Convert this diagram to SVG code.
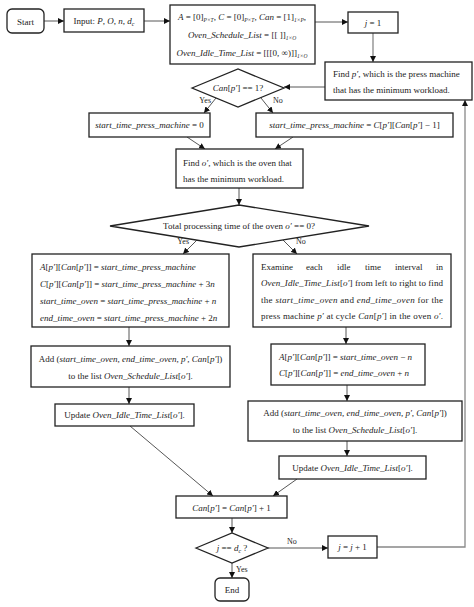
<svg xmlns="http://www.w3.org/2000/svg" width="474" height="607" viewBox="0 0 474 607">
<defs>
<marker id="ah" viewBox="0 0 10 10" refX="10" refY="5" markerWidth="6" markerHeight="6" markerUnits="userSpaceOnUse" orient="auto"><path d="M0,0 L10,5 L0,10 z" fill="#111"/></marker>
<style>
.box{fill:#fff;stroke:#222;stroke-width:1.3}
.t{font-family:"Liberation Serif","DejaVu Serif",serif;font-size:9px;fill:#222}
.mid{text-anchor:middle}
.end{text-anchor:end}
.m{font-style:italic}
.lbl{font-family:"Liberation Serif","DejaVu Serif",serif;font-size:8px;fill:#222}
.c{fill:none;stroke:#444;stroke-width:0.9;marker-end:url(#ah)}
.g{fill:none;stroke:#888;stroke-width:1.3;marker-end:url(#ah)}
</style>
</defs>
<rect width="474" height="607" fill="#fff"/>
<g id="connectors">
<line class="c" x1="44" y1="21" x2="64" y2="21"/>
<line class="c" x1="144" y1="21" x2="170" y2="21"/>
<line class="c" x1="315" y1="22" x2="348" y2="22"/>
<line class="g" x1="373" y1="33" x2="373" y2="62"/>
<line class="c" x1="325" y1="87" x2="284" y2="87"/>
<line class="c" x1="216" y1="98" x2="204" y2="113"/>
<line class="c" x1="261" y1="98" x2="273" y2="113"/>
<line class="c" x1="187" y1="137" x2="205" y2="149"/>
<line class="c" x1="293" y1="137" x2="275" y2="149"/>
<line class="c" x1="239" y1="188" x2="239" y2="205"/>
<line class="c" x1="197" y1="240" x2="183" y2="254"/>
<line class="c" x1="283" y1="240" x2="297" y2="254"/>
<line class="c" x1="129" y1="327" x2="129" y2="346"/>
<line class="c" x1="129" y1="387" x2="129" y2="404"/>
<line class="c" x1="130" y1="426" x2="213" y2="496"/>
<line class="c" x1="346" y1="327" x2="346" y2="344"/>
<line class="c" x1="347" y1="385" x2="347" y2="401"/>
<line class="c" x1="347" y1="441" x2="347" y2="456"/>
<line class="c" x1="297" y1="479" x2="273" y2="496"/>
<line class="c" x1="232" y1="518" x2="232" y2="533"/>
<line class="c" x1="268" y1="548" x2="328" y2="548"/>
<line class="c" x1="232" y1="563" x2="232" y2="578"/>
<polyline class="g" points="377,547 465,547 465,100"/>
<text class="lbl end" x="211" y="103">Yes</text>
<text class="lbl" x="273" y="103">No</text>
<text class="lbl end" x="189" y="244">Yes</text>
<text class="lbl" x="296" y="244">No</text>
<text class="lbl" x="287" y="544">No</text>
<text class="lbl" x="236" y="572">Yes</text>
</g>
<g id="start">
<rect class="box" x="7" y="9" width="37" height="24" rx="5"/>
<text class="t mid" x="25.5" y="24.5">Start</text>
</g>
<g id="input">
<rect class="box" x="64" y="9" width="80" height="23"/>
<text class="t mid" x="104" y="24">Input:  <tspan class="m">P</tspan>, <tspan class="m">O</tspan>, <tspan class="m">n</tspan>, <tspan class="m">d</tspan><tspan dy="2" font-size="6" class="m">c</tspan></text>
</g>
<g id="init">
<rect class="box" x="170" y="5" width="145" height="59"/>
<text class="t mid" x="242" y="20"><tspan class="m">A</tspan> = [0]<tspan dy="2" font-size="5.5" class="m">P×T</tspan><tspan dy="-2">, </tspan><tspan class="m">C</tspan> = [0]<tspan dy="2" font-size="5.5" class="m">P×T</tspan><tspan dy="-2">, </tspan><tspan class="m">Can</tspan> = [1]<tspan dy="2" font-size="5.5" class="m">1×P</tspan><tspan dy="-2">,</tspan></text>
<text class="t mid" x="242" y="38"><tspan class="m">Oven_Schedule_List</tspan> = [[ ]]<tspan dy="2" font-size="5.5" class="m">1×O</tspan></text>
<text class="t mid" x="242" y="56"><tspan class="m">Oven_Idle_Time_List</tspan> = [[[0, ∞)]]<tspan dy="2" font-size="5.5" class="m">1×O</tspan></text>
</g>
<g id="j1">
<rect class="box" x="348" y="12" width="50" height="21"/>
<text class="t mid" x="373" y="26"><tspan class="m">j</tspan> = 1</text>
</g>
<g id="findp">
<rect class="box" x="325" y="62" width="147" height="38"/>
<text class="t" x="333" y="77">Find  <tspan class="m">p′</tspan>, which is the press machine</text>
<text class="t" x="333" y="93">that has the minimum workload.</text>
</g>
<g id="dcan">
<polygon class="box" points="192,88 238,69 284,88 238,107"/>
<text class="t mid" x="238" y="91"><tspan class="m">Can</tspan>[<tspan class="m">p′</tspan>] == 1?</text>
</g>
<g id="st0">
<rect class="box" x="89" y="113" width="121" height="24"/>
<text class="t mid" x="149.5" y="128"><tspan class="m">start_time_press_machine</tspan>  = 0</text>
</g>
<g id="stc">
<rect class="box" x="256" y="113" width="197" height="24"/>
<text class="t mid" x="354.5" y="128"><tspan class="m">start_time_press_machine</tspan>  =  <tspan class="m">C</tspan>[<tspan class="m">p′</tspan>][<tspan class="m">Can</tspan>[<tspan class="m">p′</tspan>] − 1]</text>
</g>
<g id="findo">
<rect class="box" x="176" y="149" width="127" height="39"/>
<text class="t" x="183" y="166">Find  <tspan class="m">o′</tspan>, which is the oven that</text>
<text class="t" x="183" y="182">has the minimum workload.</text>
</g>
<g id="dtotal">
<polygon class="box" points="110,226 239,205 369,226 239,247"/>
<text class="t mid" x="239" y="229">Total processing time of the oven  <tspan class="m">o′</tspan>  == 0?</text>
</g>
<g id="yesbox">
<rect class="box" x="32" y="254" width="197" height="73"/>
<text class="t" x="40" y="270"><tspan class="m">A</tspan>[<tspan class="m">p′</tspan>][<tspan class="m">Can</tspan>[<tspan class="m">p′</tspan>]] = <tspan class="m">start_time_press_machine</tspan></text>
<text class="t" x="40" y="287"><tspan class="m">C</tspan>[<tspan class="m">p′</tspan>][<tspan class="m">Can</tspan>[<tspan class="m">p′</tspan>]] = <tspan class="m">start_time_press_machine</tspan> + 3<tspan class="m">n</tspan></text>
<text class="t" x="40" y="304"><tspan class="m">start_time_oven</tspan> = <tspan class="m">start_time_press_machine</tspan> + <tspan class="m">n</tspan></text>
<text class="t" x="40" y="321"><tspan class="m">end_time_oven</tspan> = <tspan class="m">start_time_press_machine</tspan> + 2<tspan class="m">n</tspan></text>
</g>
<g id="addleft">
<rect class="box" x="31" y="346" width="199" height="41"/>
<text class="t mid" x="130.5" y="362">Add  (<tspan class="m">start_time_oven</tspan>, <tspan class="m">end_time_oven</tspan>, <tspan class="m">p′</tspan>, <tspan class="m">Can</tspan>[<tspan class="m">p′</tspan>])</text>
<text class="t mid" x="130.5" y="379">to the list  <tspan class="m">Oven_Schedule_List</tspan>[<tspan class="m">o′</tspan>].</text>
</g>
<g id="updleft">
<rect class="box" x="55" y="404" width="139" height="22"/>
<text class="t mid" x="124.5" y="418">Update  <tspan class="m">Oven_Idle_Time_List</tspan>[<tspan class="m">o′</tspan>].</text>
</g>
<g id="examine">
<rect class="box" x="253" y="254" width="198" height="73"/>
<text class="t" y="270"><tspan x="261">Examine</tspan><tspan x="306">each</tspan><tspan x="337">idle</tspan><tspan x="365">time</tspan><tspan x="395">interval</tspan><tspan x="436">in</tspan></text>
<text class="t" x="261" y="286" textLength="182" lengthAdjust="spacing"><tspan class="m">Oven_Idle_Time_List</tspan>[<tspan class="m">o′</tspan>]  from left to right to find</text>
<text class="t" x="261" y="303" textLength="182" lengthAdjust="spacing">the  <tspan class="m">start_time_oven</tspan>  and  <tspan class="m">end_time_oven</tspan>  for the</text>
<text class="t" x="261" y="319" textLength="182" lengthAdjust="spacing">press machine  <tspan class="m">p′</tspan>  at cycle  <tspan class="m">Can</tspan>[<tspan class="m">p′</tspan>]  in the oven  <tspan class="m">o′</tspan>.</text>
</g>
<g id="assignright">
<rect class="box" x="271" y="344" width="154" height="41"/>
<text class="t" x="279" y="360"><tspan class="m">A</tspan>[<tspan class="m">p′</tspan>][<tspan class="m">Can</tspan>[<tspan class="m">p′</tspan>]] = <tspan class="m">start_time_oven</tspan> − <tspan class="m">n</tspan></text>
<text class="t" x="279" y="376"><tspan class="m">C</tspan>[<tspan class="m">p′</tspan>][<tspan class="m">Can</tspan>[<tspan class="m">p′</tspan>]] = <tspan class="m">end_time_oven</tspan> + <tspan class="m">n</tspan></text>
</g>
<g id="addright">
<rect class="box" x="248" y="401" width="214" height="40"/>
<text class="t mid" x="355" y="416">Add  (<tspan class="m">start_time_oven</tspan>, <tspan class="m">end_time_oven</tspan>, <tspan class="m">p′</tspan>, <tspan class="m">Can</tspan>[<tspan class="m">p′</tspan>])</text>
<text class="t mid" x="355" y="433">to the list  <tspan class="m">Oven_Schedule_List</tspan>[<tspan class="m">o′</tspan>].</text>
</g>
<g id="updright">
<rect class="box" x="279" y="456" width="147" height="23"/>
<text class="t mid" x="352.5" y="471">Update  <tspan class="m">Oven_Idle_Time_List</tspan>[<tspan class="m">o′</tspan>].</text>
</g>
<g id="caninc">
<rect class="box" x="176" y="496" width="111" height="22"/>
<text class="t mid" x="231.5" y="511"><tspan class="m">Can</tspan>[<tspan class="m">p′</tspan>] = <tspan class="m">Can</tspan>[<tspan class="m">p′</tspan>] + 1</text>
</g>
<g id="dj">
<polygon class="box" points="196,548 232,533 268,548 232,563"/>
<text class="t mid" x="232" y="551"><tspan class="m">j</tspan> == <tspan class="m">d</tspan><tspan dy="2" font-size="6" class="m">c</tspan><tspan dy="-2"> ?</tspan></text>
</g>
<g id="jinc">
<rect class="box" x="328" y="536" width="49" height="22"/>
<text class="t mid" x="352.5" y="550"><tspan class="m">j</tspan> = <tspan class="m">j</tspan> + 1</text>
</g>
<g id="end">
<rect class="box" x="215" y="578" width="34" height="23" rx="5"/>
<text class="t mid" x="232" y="593">End</text>
</g>
</svg>
